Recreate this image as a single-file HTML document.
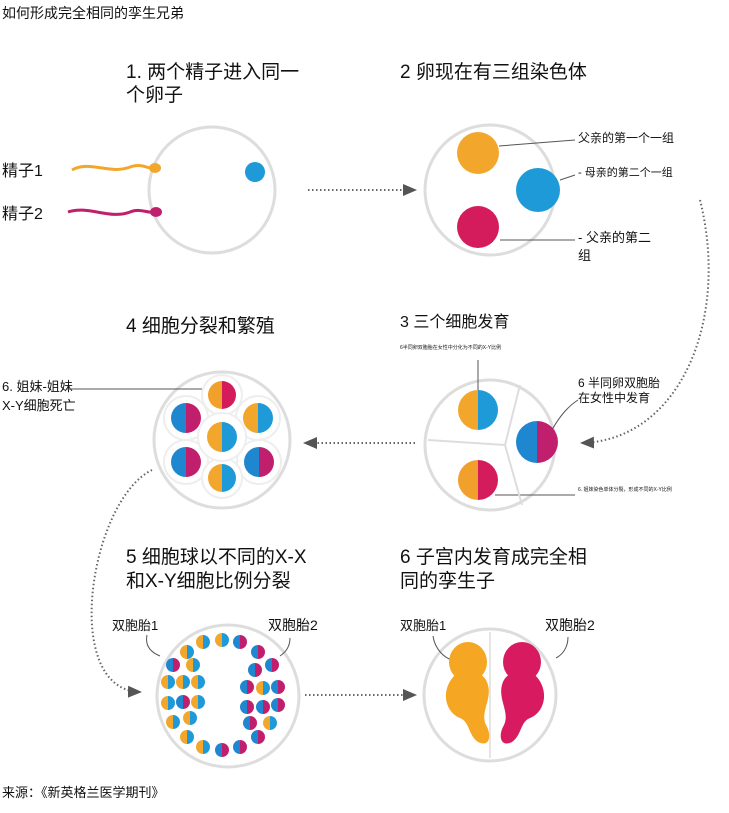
<!DOCTYPE html>
<html><head><meta charset="utf-8"><style>
body{margin:0;background:#fff;}
svg{display:block;font-family:"Liberation Sans","Noto Sans CJK SC",sans-serif;}
</style></head><body>
<svg width="729" height="813" viewBox="0 0 729 813" xmlns="http://www.w3.org/2000/svg">
<defs>
<linearGradient id="ob"><stop offset="50%" stop-color="#f2a72c"/><stop offset="50%" stop-color="#1f9ad8"/></linearGradient>
<linearGradient id="bm"><stop offset="50%" stop-color="#1f86d0"/><stop offset="50%" stop-color="#c01f6e"/></linearGradient>
<linearGradient id="om"><stop offset="50%" stop-color="#f2a02c"/><stop offset="50%" stop-color="#d41c5c"/></linearGradient>
<marker id="ar" markerWidth="8" markerHeight="8" refX="6" refY="4" orient="auto"><path d="M0,1 L7,4 L0,7 Z" fill="#555"/></marker>
</defs>
<rect width="729" height="813" fill="#fff"/>
<g fill="#111">
<text x="2" y="18" font-size="14">如何形成完全相同的孪生兄弟</text>
<text x="126" y="78" font-size="19">1. 两个精子进入同一</text>
<text x="126" y="101" font-size="19">个卵子</text>
<text x="400" y="78" font-size="19">2 卵现在有三组染色体</text>
<text x="126" y="332" font-size="19">4 细胞分裂和繁殖</text>
<text x="400" y="327" font-size="16">3 三个细胞发育</text>
<text x="400" y="349" font-size="5">6半同卵双胞胎在女性中分化为不同的X-Y比例</text>
<text x="126" y="563" font-size="19">5 细胞球以不同的X-X</text>
<text x="126" y="587" font-size="19">和X-Y细胞比例分裂</text>
<text x="400" y="563" font-size="19">6 子宫内发育成完全相</text>
<text x="400" y="587" font-size="19">同的孪生子</text>
<text x="2" y="176" font-size="16">精子1</text>
<text x="2" y="219" font-size="16">精子2</text>
<text x="214" y="219" font-size="15">卵</text>
<text x="578" y="142" font-size="12">父亲的第一个一组</text>
<text x="578" y="176" font-size="11">- 母亲的第二个一组</text>
<text x="578" y="242" font-size="13">- 父亲的第二</text>
<text x="578" y="260" font-size="13">组</text>
<text x="578" y="387" font-size="12">6 半同卵双胞胎</text>
<text x="578" y="402" font-size="12">在女性中发育</text>
<text x="578" y="491" font-size="5">6. 姐妹染色单体分裂，形成不同的X-Y比例</text>
<text x="2" y="391" font-size="13">6. 姐妹-姐妹</text>
<text x="2" y="410" font-size="13">X-Y细胞死亡</text>
<text x="112" y="630" font-size="13">双胞胎1</text>
<text x="268" y="630" font-size="14">双胞胎2</text>
<text x="400" y="630" font-size="13">双胞胎1</text>
<text x="545" y="630" font-size="14">双胞胎2</text>
<text x="2" y="797" font-size="13">来源：《新英格兰医学期刊》</text>
</g>
<g fill="#fff" stroke="#ddd" stroke-width="3">
<circle cx="212" cy="190" r="63"/>
<circle cx="490" cy="190" r="65"/>
<circle cx="222" cy="440" r="68"/>
<circle cx="490" cy="445" r="65"/>
<circle cx="228" cy="696" r="71"/>
<circle cx="490" cy="695" r="66"/>
</g>
<circle cx="255" cy="172" r="10" fill="#1f9ad8"/>
<path d="M72,170 C90,160 110,175 130,167 C140,163 148,168 150,168" stroke="#f2a72c" stroke-width="3" fill="none"/>
<ellipse cx="155" cy="168" rx="6" ry="5" fill="#f2a72c"/>
<path d="M68,212 C88,205 110,220 130,212 C140,208 148,213 151,212" stroke="#c01f6e" stroke-width="3" fill="none"/>
<ellipse cx="156" cy="212" rx="6" ry="5" fill="#c01f6e"/>
<circle cx="478" cy="153" r="21" fill="#f2a72c"/>
<circle cx="538" cy="190" r="22" fill="#1f9ad8"/>
<circle cx="478" cy="227" r="21" fill="#d41c5c"/>
<g stroke="#555" stroke-width="1" fill="none">
<path d="M499,146 L575,140"/><path d="M560,180 L575,175"/><path d="M500,240 L575,240"/>
<path d="M67,389 L210,389"/>
<path d="M478,395 L478,360"/><path d="M552,430 C560,415 570,405 578,400"/><path d="M495,495 L575,495"/>
<path d="M147,635 C145,645 150,652 160,656"/><path d="M290,638 C290,646 286,652 280,656"/>
<path d="M433,636 C435,650 445,658 452,660"/><path d="M568,637 C568,648 562,655 556,658"/>
</g>
<g stroke="#666" stroke-width="2" stroke-dasharray="1.5,2.5" fill="none" marker-end="url(#ar)">
<path d="M308,190 L415,190"/>
<path d="M700,200 C730,320 680,440 582,443"/>
<path d="M415,443 L305,443"/>
<path d="M152,470 C90,500 60,690 140,692"/>
<path d="M305,695 L415,695"/>
</g>
<g stroke="#ddd" stroke-width="2" fill="none"><path d="M505,445 L428,440"/><path d="M505,445 L520,385"/><path d="M505,445 L522,505"/></g>
<circle cx="478" cy="410" r="20" fill="url(#ob)"/>
<circle cx="537" cy="442" r="21" fill="url(#bm)"/>
<circle cx="478" cy="480" r="20" fill="url(#om)"/>
<g stroke="#eee" stroke-width="2" fill="#fff">
<circle cx="222" cy="395" r="20"/><circle cx="186" cy="418" r="22"/><circle cx="258" cy="418" r="22"/>
<circle cx="186" cy="462" r="22"/><circle cx="259" cy="462" r="22"/><circle cx="222" cy="478" r="20"/><circle cx="222" cy="437" r="24"/>
</g>
<circle cx="222" cy="395" r="14" fill="url(#om)"/>
<circle cx="186" cy="418" r="15" fill="url(#bm)"/>
<circle cx="258" cy="418" r="15" fill="url(#ob)"/>
<circle cx="222" cy="437" r="15" fill="url(#ob)"/>
<circle cx="186" cy="462" r="15" fill="url(#bm)"/>
<circle cx="259" cy="462" r="15" fill="url(#bm)"/>
<circle cx="222" cy="478" r="14" fill="url(#ob)"/>
<g>
<circle cx="203" cy="642" r="7" fill="url(#ob)"/><circle cx="222" cy="640" r="7" fill="url(#ob)"/><circle cx="240" cy="642" r="7" fill="url(#bm)"/>
<circle cx="187" cy="652" r="7" fill="url(#ob)"/><circle cx="258" cy="652" r="7" fill="url(#bm)"/>
<circle cx="173" cy="665" r="7" fill="url(#bm)"/><circle cx="193" cy="665" r="7" fill="url(#ob)"/><circle cx="272" cy="665" r="7" fill="url(#bm)"/><circle cx="255" cy="670" r="7" fill="url(#bm)"/>
<circle cx="168" cy="682" r="7" fill="url(#ob)"/><circle cx="183" cy="682" r="7" fill="url(#ob)"/><circle cx="198" cy="682" r="7" fill="url(#ob)"/>
<circle cx="247" cy="687" r="7" fill="url(#bm)"/><circle cx="263" cy="688" r="7" fill="url(#ob)"/><circle cx="278" cy="687" r="7" fill="url(#bm)"/>
<circle cx="168" cy="703" r="7" fill="url(#ob)"/><circle cx="183" cy="702" r="7" fill="url(#bm)"/><circle cx="198" cy="702" r="7" fill="url(#ob)"/>
<circle cx="247" cy="707" r="7" fill="url(#bm)"/><circle cx="263" cy="707" r="7" fill="url(#bm)"/><circle cx="278" cy="705" r="7" fill="url(#bm)"/>
<circle cx="173" cy="722" r="7" fill="url(#ob)"/><circle cx="190" cy="718" r="7" fill="url(#ob)"/><circle cx="250" cy="723" r="7" fill="url(#bm)"/><circle cx="270" cy="723" r="7" fill="url(#ob)"/>
<circle cx="187" cy="737" r="7" fill="url(#ob)"/><circle cx="258" cy="737" r="7" fill="url(#bm)"/>
<circle cx="203" cy="747" r="7" fill="url(#ob)"/><circle cx="222" cy="750" r="7" fill="url(#bm)"/><circle cx="240" cy="747" r="7" fill="url(#bm)"/>
</g>
<line x1="490" y1="632" x2="490" y2="758" stroke="#e5e5e5" stroke-width="2"/>
<ellipse cx="468" cy="662" rx="19" ry="20" fill="#f5a623"/>
<path d="M455,675 C440,690 445,712 460,718 C470,722 468,735 478,742 C490,748 492,735 486,725 C480,712 492,700 488,685 C485,672 470,668 455,675 Z" fill="#f5a623"/>
<ellipse cx="522" cy="662" rx="19" ry="20" fill="#d81b60"/>
<path d="M535,675 C550,690 545,712 530,718 C520,722 522,735 512,742 C500,748 498,735 504,725 C510,712 498,700 502,685 C505,672 520,668 535,675 Z" fill="#d81b60"/>
</svg>
</body></html>
